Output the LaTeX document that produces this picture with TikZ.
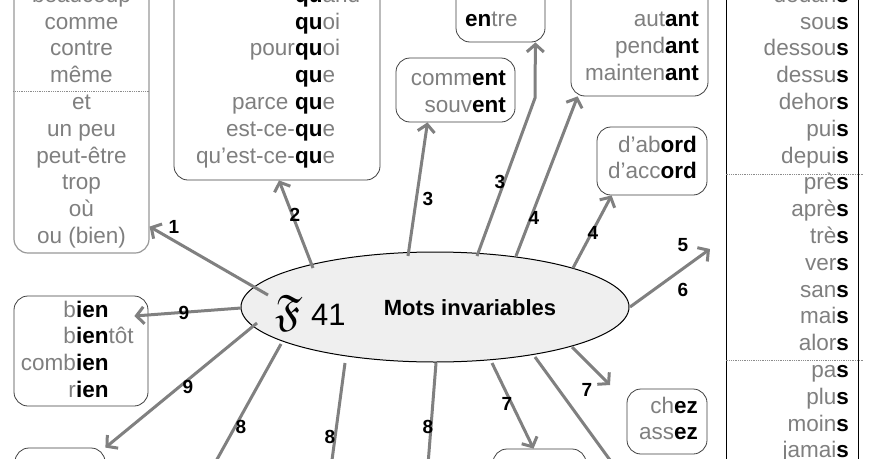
\documentclass[tikz,border=0pt]{standalone}
\usepackage{fontspec}
\setmainfont{Liberation Sans}
\usepackage{amssymb}
\usepackage{graphicx}
\usetikzlibrary{positioning,arrows.meta,shapes.geometric}
\definecolor{txtgray}{HTML}{7F7F7F}
\definecolor{arrgray}{HTML}{808080}
\definecolor{ellfill}{HTML}{EFEFEF}
\newcommand{\suf}[1]{\textcolor{black}{\bfseries #1}}
\tikzstyle{wordbox}=[draw=black!75, line width=0.8pt, rounded corners=14pt, inner sep=0pt]
\tikzstyle{graybox}=[wordbox, draw=black!40, line width=1.2pt]
\tikzstyle{word}=[inner sep=0pt, text=txtgray, font=\fontsize{22.5}{26}\selectfont]
\tikzstyle{num}=[inner sep=0pt, font=\fontsize{19}{19}\selectfont\bfseries]
\tikzstyle{link}=[draw=arrgray, line width=3pt, -{Straight Barb[length=7.5pt,width=17pt]}]
\tikzstyle{divider}=[draw=black!45, densely dotted, line width=0.8pt]

\begin{document}
\begin{tikzpicture}[x=1pt, y=-1pt]
  % cadre
  \useasboundingbox (0,0) rectangle (872,458);
  \fill[white] (0,0) rectangle (872,458);
  \clip (0,0) rectangle (872,458);

  % boites
  \node[graybox, minimum width=135pt, minimum height=313pt] (box1) at (81.5,96.5) {};
  \node[wordbox, minimum width=206pt, minimum height=240pt] (box2) at (277,60) {};
  \node[wordbox, minimum width=89pt, minimum height=102pt] (boxEn) at (500.5,-9) {};
  \node[wordbox, minimum width=119pt, minimum height=64pt] (boxEnt) at (455.5,90) {};
  \node[wordbox, minimum width=137pt, minimum height=156pt] (boxAnt) at (639.5,18) {};
  \node[wordbox, minimum width=110pt, minimum height=68pt] (boxOrd) at (652,161) {};
  \node[wordbox, minimum width=80pt, minimum height=65pt] (boxEz) at (667,421.5) {};
  \node[wordbox, minimum width=134pt, minimum height=110pt] (boxIen) at (81,351) {};
  \node[wordbox, minimum width=90pt, minimum height=112pt] (boxBL) at (60,504) {};
  \node[wordbox, minimum width=93pt, minimum height=111pt] (boxBM) at (539.5,504.5) {};
  \node[draw, line width=1pt, minimum width=132pt, minimum height=620pt] (col) at (792,250) {};

  % lignes de separation
  \draw[divider] (box1.west |- 0,91) -- (box1.east |- 0,91);
  \draw[divider] (col.west |- 0,174) -- (863,174);
  \draw[divider] (col.west |- 0,360) -- (863,360);

  % mots
  \foreach \w [count=\k from 0] in {beaucoup,comme,contre,même,et,un peu,peut-être,trop,où,{ou (bien)}}
    \node[word, anchor=base] (m\k) at (81.5,{2.2+26.8*\k}) {\w};
  \foreach \a/\b [count=\k from 0] in {{}/and,{}/oi,pour/oi,{}/e,parce\kern6.3pt/e,est-ce-/e,qu’est-ce-/e} {
    \node[word, anchor=base east] (qa\k) at (295,{2.2+26.8*\k}) {\a};
    \node[word, anchor=base west] (qb\k) at (295,{2.2+26.8*\k}) {\suf{qu}\b};
  }
  \foreach \a [count=\k from 0] in {dedan,sou,dessou,dessu,dehor,pui,depui,prè,aprè,trè,ver,san,mai,alor,pa,plu,moin,jamai}
    \node[word, anchor=base east] (s\k) at (849,{2.2+26.8*\k}) {\a\suf{s}};
  \foreach \a/\b [count=\k from 0] in {b/,b/tôt,comb/,r/} {
    \node[word, anchor=base east] (ia\k) at (76,{317+26.7*\k}) {\a};
    \node[word, anchor=base west] (ib\k) at (76,{317+26.7*\k}) {\suf{ien}\b};
  }
  \node[word, anchor=base west] (en1) at (465,26) {\suf{en}tre};
  \node[word, anchor=base east] (ent1) at (506,85) {comm\suf{ent}};
  \node[word, anchor=base east] (ent2) at (506,112) {souv\suf{ent}};
  \node[word, anchor=base east] (ant1) at (699,26) {aut\suf{ant}};
  \node[word, anchor=base east] (ant2) at (699,53) {pend\suf{ant}};
  \node[word, anchor=base east] (ant3) at (699,80) {mainten\suf{ant}};
  \node[word, anchor=base east] (ord1) at (697,152) {d’ab\suf{ord}};
  \node[word, anchor=base east] (ord2) at (697,178) {d’acc\suf{ord}};
  \node[word, anchor=base east] (ez1) at (698,413) {ch\suf{ez}};
  \node[word, anchor=base east] (ez2) at (698,439) {ass\suf{ez}};

  % ellipse centrale
  \node[ellipse, draw, line width=1pt, fill=ellfill, minimum width=388pt, minimum height=110pt] (ell) at (435,307) {};
  \node[anchor=base west, inner sep=0pt] (fiche) at (275,325)
    {\scalebox{4.4}{$\mathfrak{F}$}\hspace{9pt}{\fontsize{31}{31}\selectfont 41}};
  \node[anchor=base, inner sep=0pt, font=\fontsize{22}{22}\selectfont\bfseries] (titre) at (470,315) {Mots invariables};

  % departs des fleches
  \coordinate (s1) at (268,295);
  \coordinate (s2) at (313,268);
  \coordinate (s3a) at (408,256);
  \coordinate (s3b) at (477,256);
  \coordinate (k3b) at (535,98);
  \coordinate (s4a) at (516,256);
  \coordinate (s4b) at (573,268);
  \coordinate (s5) at (630,307);
  \coordinate (e5) at (710,249);
  \coordinate (s7a) at (572,347);
  \coordinate (e7a) at (610,385);
  \coordinate (s7b) at (492,363);
  \coordinate (s7c) at (535,357);
  \coordinate (e7c) at (626,482);
  \coordinate (s8a) at (436,363);
  \coordinate (e8a) at (426,490);
  \coordinate (s8b) at (345,363);
  \coordinate (e8b) at (328,490);
  \coordinate (s8c) at (281,344);
  \coordinate (e8c) at (200,490);
  \coordinate (s9a) at (241,308);
  \coordinate (s9b) at (257,323);

  % fleches
  \draw[link] (s1) -- ([yshift=27pt]box1.south east);
  \draw[link] (s2) -- ([xshift=2pt]box2.south);
  \draw[link] (s3a) -- ([xshift=-28pt]boxEnt.south);
  \draw[link] (s3b) -- (k3b) -- ([xshift=-10pt]boxEn.south east);
  \draw[link] (s4a) -- ([xshift=7pt]boxAnt.south west);
  \draw[link] (s4b) -- ([xshift=15pt]boxOrd.south west);
  \draw[link] (s5) -- (e5);
  \draw[link] (s7a) -- (e7a);
  \draw[link] (s7b) -- ([xshift=-6pt]boxBM.north);
  \draw[link] (s7c) -- (e7c);
  \draw[link] (s8a) -- (e8a);
  \draw[link] (s8b) -- (e8b);
  \draw[link] (s8c) -- (e8c);
  \draw[link] (s9a) -- ([xshift=-14pt,yshift=35pt]boxIen.east);
  \draw[link] (s9b) -- (boxBL.north east);

  % numeros
  \foreach \t/\x/\y [count=\i] in {1/174/227, 2/295/215, 3/428/199, 3/500/182, 4/534/218, 4/593/233,
      5/683/245, 6/683/290, 7/587/390, 7/507/404, 8/428/427, 8/330/437, 8/241/427, 9/184/313, 9/188/387}
    \node[num] (lab\i) at (\x,\y) {\t};
\end{tikzpicture}
\end{document}
